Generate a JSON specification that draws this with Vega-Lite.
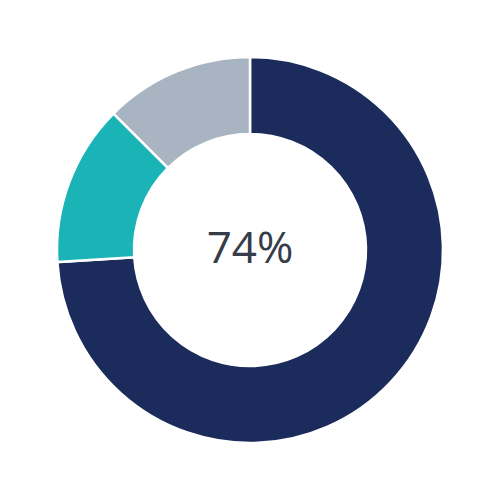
{
  "$schema": "https://vega.github.io/schema/vega-lite/v6.json",
  "width": 500,
  "height": 500,
  "autosize": {"type": "fit", "contains": "padding"},
  "padding": 0,
  "background": "white",
  "view": {"stroke": null},
  "data": {
    "values": [
      {"segment": "A", "order": 1, "share": 74},
      {"segment": "B", "order": 2, "share": 13.5},
      {"segment": "C", "order": 3, "share": 12.5}
    ]
  },
  "layer": [
    {
      "mark": {"type": "arc", "outerRadius": 193, "innerRadius": 116, "stroke": "white", "strokeWidth": 2.5},
      "encoding": {
        "theta": {"field": "share", "type": "quantitative", "stack": true},
        "order": {"field": "order", "type": "quantitative"},
        "color": {
          "field": "segment",
          "type": "nominal",
          "legend": null,
          "scale": {"domain": ["A", "B", "C"], "range": ["#1b2b5b", "#1bb4b6", "#a9b4c2"]}
        }
      }
    },
    {
      "transform": [{"filter": "datum.segment == 'A'"}],
      "mark": {"type": "text", "fontSize": 44, "font": "Open Sans", "fontWeight": 400, "color": "#363c48", "align": "center", "baseline": "middle", "dy": 0},
      "encoding": {
        "text": {"value": "74%"}
      }
    }
  ]
}
